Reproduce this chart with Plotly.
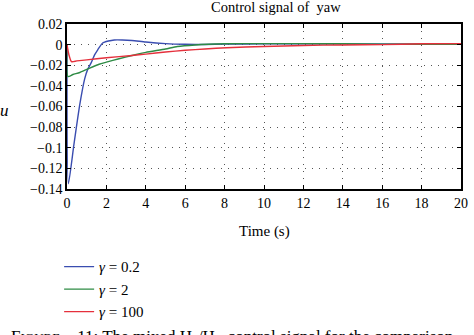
import plotly.graph_objects as go

# Control effort of the yaw channel for three weighting values
t_g02 = [0, 0.07, 0.35, 0.65, 0.9, 1.05, 1.23, 1.4, 1.56, 1.81, 2.1, 2.4, 2.8, 3.3, 4, 5, 6, 7, 8, 10, 14, 20]
u_g02 = [0, -0.135, -0.097, -0.058, -0.033, -0.024, -0.0175, -0.010, -0.005, 0.0016, 0.0035, 0.0045,
         0.0045, 0.004, 0.0025, 0.001, 0.0003, 0.0001, 0.0005, 0.0007, 0.0007, 0.0005]

t_g2 = [0, 0.05, 0.3, 0.65, 1.63, 2.0, 2.64, 3.3, 4, 5, 5.6, 6.5, 8, 10, 12, 14, 16, 18, 20]
u_g2 = [0, -0.031, -0.029, -0.027, -0.019, -0.017, -0.0137, -0.0105, -0.0075, -0.0042, -0.0018,
        -0.0003, 0.0008, 0.001, 0.001, 0.0008, 0.0005, 0.0003, 0.0002]

t_g100 = [0, 0.1, 0.23, 0.5, 1, 2, 3.3, 4, 5, 6, 7, 8.1, 10, 12, 14, 16, 18, 20]
u_g100 = [0, -0.01, -0.0165, -0.0158, -0.0148, -0.0127, -0.0105, -0.0092, -0.0072, -0.0055, -0.0042,
          -0.003, -0.0018, -0.0008, -0.0003, 0.0, 0.0008, 0.001]

series_names = ["<i>\u03b3</i> = 0.2", "<i>\u03b3</i> = 2", "<i>\u03b3</i> = 100"]
series_colors = ["#3a4db0", "#2e8b45", "#e5303c"]

x_ticks = list(range(0, 21, 2))
y_ticks = [0.02, 0, -0.02, -0.04, -0.06, -0.08, -0.1, -0.12, -0.14]

FONT = "Liberation Serif, Times New Roman, serif"

fig = go.Figure()
for t, u, name, color in zip([t_g02, t_g2, t_g100], [u_g02, u_g2, u_g100], series_names, series_colors):
    fig.add_trace(go.Scatter(x=t, y=u, mode="lines", name=name,
                             line=dict(color=color, width=1.4, shape="spline", smoothing=0.6)))

axis_common = dict(
    showline=True, linecolor="black", linewidth=1.5, mirror="ticks",
    ticks="inside", ticklen=4, tickcolor="black",
    showgrid=True, gridcolor="#555555", gridwidth=1, griddash="1px,6px",
    zeroline=False, tickfont=dict(family=FONT, size=14, color="black"),
)

fig.update_xaxes(range=[0, 20], tickvals=x_ticks, **axis_common)
fig.update_yaxes(range=[-0.14, 0.02], tickvals=y_ticks,
                 ticktext=[("\u2212" if v < 0 else "") + (f"{abs(v):g}") for v in y_ticks],
                 **axis_common)

fig.add_annotation(text="Control signal of  yaw", xref="paper", yref="paper", x=0.53, y=1.10,
                   showarrow=False, font=dict(family=FONT, size=14.5, color="black"), yanchor="middle")
fig.add_annotation(text="<i>u</i>", xref="paper", yref="paper", x=-0.175, y=0.476,
                   showarrow=False, font=dict(family=FONT, size=17, color="black"))
fig.add_annotation(text="Time (s)", xref="paper", yref="paper", x=0.5, y=-0.255,
                   showarrow=False, font=dict(family=FONT, size=15, color="black"), yanchor="middle")
fig.add_annotation(
    text="F<span style='font-size:13px'>IGURE</span>\u00a0\u00a0\u00a0 11: The mixed H<sub>2</sub>/H<sub>\u221e</sub> control signal for the comparison",
    xref="paper", yref="paper", x=-0.147, y=-0.822, xanchor="left", yanchor="top",
    showarrow=False, font=dict(family=FONT, size=17, color="black"))

fig.update_layout(
    width=474, height=335,
    margin=dict(l=67, r=6, t=24, b=143),
    paper_bgcolor="white", plot_bgcolor="white",
    showlegend=True,
    legend=dict(x=-0.02, y=-0.372, xanchor="left", yanchor="top",
                font=dict(family=FONT, size=15, color="black"),
                itemwidth=30, tracegroupgap=0, bgcolor="rgba(0,0,0,0)"),
)

fig.write_html("out.html")
